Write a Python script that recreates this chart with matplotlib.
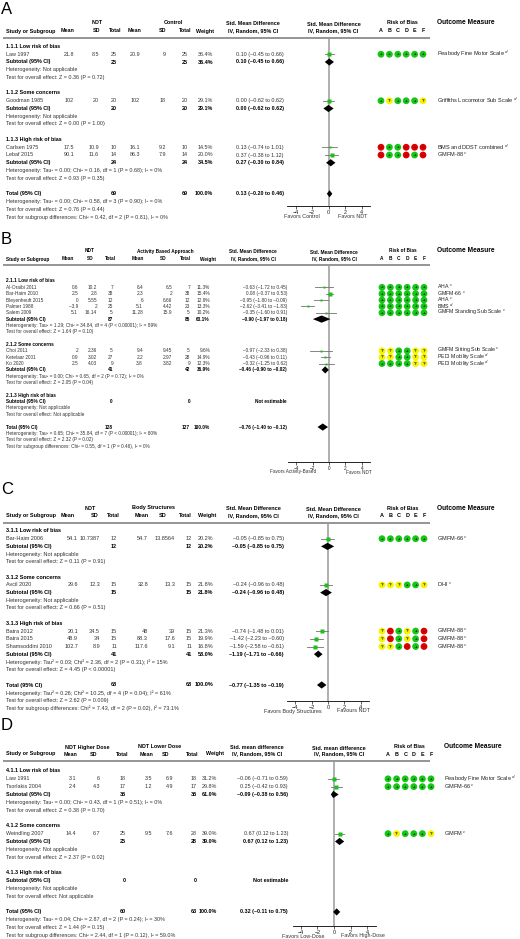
import matplotlib
matplotlib.use("Agg")
import matplotlib.pyplot as plt
import numpy as np

plt.rcParams['font.family'] = ['Liberation Sans', 'DejaVu Sans']
plt.rcParams['mathtext.fontset'] = 'custom'
plt.rcParams['mathtext.rm'] = 'Liberation Sans'

W, H = 520, 939

# ---------------- Panel A: NDT vs control ----------------
A_study = ["Law 1997", "Goodman 1985", "Carlsen 1975", "Lebaf 2015"]
A_sub = [0, 1, 2, 2]
A_m1 = [21.8, 102, 17.5, 90.1]
A_sd1 = [8.5, 20, 10.9, 11.6]
A_n1 = [25, 20, 10, 14]
A_m2 = [20.9, 102, 16.1, 86.3]
A_sd2 = [9, 18, 9.2, 7.9]
A_n2 = [25, 20, 10, 14]
A_w = [36.4, 29.1, 14.5, 20.0]
A_smd = [0.10, 0.00, 0.13, 0.37]
A_lo = [-0.45, -0.62, -0.74, -0.38]
A_hi = [0.66, 0.62, 1.01, 1.12]
A_rob = ["GGGGGG", "GYGGGY", "RGGRRR", "RGGRGR"]
A_outcome = ["Peabody Fine Motor Scale", "Griffiths Locomotor Sub Scale", "BMS and DDST combined", "GMFM-88"]
A_note = ["d", "d", "d", "c"]
A_groups = ["1.1.1 Low risk of bias", "1.1.2 Some concerns", "1.1.3 High risk of bias"]
A_gn1 = [25, 20, 24]
A_gn2 = [25, 20, 24]
A_gw = [36.4, 29.1, 34.5]
A_gsmd = [0.10, 0.00, 0.27]
A_glo = [-0.45, -0.62, -0.30]
A_ghi = [0.66, 0.62, 0.84]
A_ghet = ["Heterogeneity: Not applicable", "Heterogeneity: Not applicable",
          "Heterogeneity: Tau² = 0.00; Chi² = 0.16, df = 1 (P = 0.68); I² = 0%"]
A_gz = ["Test for overall effect: Z = 0.36 (P = 0.72)", "Test for overall effect: Z = 0.00 (P = 1.00)",
        "Test for overall effect: Z = 0.93 (P = 0.35)"]
A_tot = [69, 69, 0.13, -0.20, 0.46]
A_tot_txt = ["Heterogeneity: Tau² = 0.00; Chi² = 0.58, df = 3 (P = 0.90); I² = 0%",
             "Test for overall effect: Z = 0.76 (P = 0.44)",
             "Test for subgroup differences: Chi² = 0.42, df = 2 (P = 0.81), I² = 0%"]
A_arms = ["NDT", "Control"]
A_favors = ["Favors Control", "Favors NDT"]

# ---------------- Panel B: NDT vs activity based ----------------
B_study = ["Al-Oraibi 2011", "Bar-Haim 2010", "Bleyenheuft 2015", "Palmer 1988", "Salem 2009",
           "Choi 2011", "Ketelaar 2001", "Ko 2020"]
B_sub = [0, 0, 0, 0, 0, 1, 1, 1]
B_m1 = [0.6, 2.5, 0, -3.9, 5.1, 2, 0.9, 2.5]
B_sd1 = [10.2, 2.8, 5.55, 2, 16.14, 2.36, 3.02, 4.03]
B_n1 = [7, 38, 12, 25, 5, 5, 27, 9]
B_m2 = [6.4, 2.3, 6, 5.1, 11.28, 9.4, 2.2, 3.8]
B_sd2 = [6.5, 2, 6.66, 4.42, 15.9, 9.45, 2.97, 3.82]
B_n2 = [7, 38, 12, 23, 5, 5, 28, 9]
B_w = [11.3, 15.4, 12.9, 13.3, 10.2, 9.6, 14.9, 12.3]
B_smd = [-0.63, 0.08, -0.95, -2.62, -0.35, -0.97, -0.43, -0.32]
B_lo = [-1.72, -0.37, -1.80, -3.41, -1.60, -2.33, -0.96, -1.25]
B_hi = [0.45, 0.53, -0.09, -1.83, 0.91, 0.38, 0.11, 0.62]
B_rob = ["GGGGGG", "GGGGGG", "GGGGGG", "GGGGGG", "GGGGGG", "YYGGYY", "YYGGYY", "GGGGYY"]
B_outcome = ["AHA", "GMFM-66", "AHA", "BMS", "GMFM Standing Sub Scale",
             "GMFM Sitting Sub Scale", "PEDI Mobility Scale", "PEDI Mobility Scale"]
B_note = ["c", "c", "c", "d", "c", "c", "d", "d"]
B_groups = ["2.1.1 Low risk of bias", "2.1.2 Some concerns", "2.1.3 High risk of bias"]
B_gn1 = [87, 41, 0]
B_gn2 = [85, 42, 0]
B_gw = [63.1, 36.9, None]
B_gsmd = [-0.90, -0.46, None]
B_glo = [-1.97, -0.90, None]
B_ghi = [0.18, -0.02, None]
B_ghet = ["Heterogeneity: Tau² = 1.29; Chi² = 34.84, df = 4 (P < 0.00001); I² = 89%",
          "Heterogeneity: Tau² = 0.00; Chi² = 0.65, df = 2 (P = 0.72); I² = 0%",
          "Heterogeneity: Not applicable"]
B_gz = ["Test for overall effect: Z = 1.64 (P = 0.10)", "Test for overall effect: Z = 2.05 (P = 0.04)",
        "Test for overall effect: Not applicable"]
B_tot = [128, 127, -0.76, -1.40, -0.12]
B_tot_txt = ["Heterogeneity: Tau² = 0.65; Chi² = 35.84, df = 7 (P < 0.00001); I² = 80%",
             "Test for overall effect: Z = 2.32 (P = 0.02)",
             "Test for subgroup differences: Chi² = 0.55, df = 1 (P = 0.46), I² = 0%"]
B_arms = ["NDT", "Activity Based Approach"]
B_favors = ["Favors Activity-Based", "Favors NDT"]

# ---------------- Panel C: NDT vs body structures ----------------
C_study = ["Bar-Haim 2006", "Avcil 2020", "Batra 2012", "Batra 2015", "Shamsoddini 2010"]
C_sub = [0, 1, 2, 2, 2]
C_m1 = [54.1, 29.6, 20.1, 48.9, 102.7]
C_sd1 = [10.7387, 12.3, 34.5, 34, 8.9]
C_n1 = [12, 15, 15, 15, 11]
C_m2 = [54.7, 32.8, 48, 88.3, 117.6]
C_sd2 = [13.8564, 13.3, 39, 17.6, 9.1]
C_n2 = [12, 15, 15, 15, 11]
C_w = [20.2, 21.8, 21.3, 19.9, 16.8]
C_smd = [-0.05, -0.24, -0.74, -1.42, -1.59]
C_lo = [-0.85, -0.96, -1.48, -2.23, -2.58]
C_hi = [0.75, 0.48, 0.01, -0.60, -0.61]
C_rob = ["GGGGGG", "YYYGGY", "YRGYGR", "YRGYGR", "YYGRGR"]
C_outcome = ["GMFM-66", "DHI", "GMFM-88", "GMFM-88", "GMFM-88"]
C_note = ["c", "c", "c", "c", "c"]
C_groups = ["3.1.1 Low risk of bias", "3.1.2 Some concerns", "3.1.3 High risk of bias"]
C_gn1 = [12, 15, 41]
C_gn2 = [12, 15, 41]
C_gw = [20.2, 21.8, 58.0]
C_gsmd = [-0.05, -0.24, -1.19]
C_glo = [-0.85, -0.96, -1.71]
C_ghi = [0.75, 0.48, -0.66]
C_ghet = ["Heterogeneity: Not applicable", "Heterogeneity: Not applicable",
          "Heterogeneity: Tau² = 0.03; Chi² = 2.36, df = 2 (P = 0.31); I² = 15%"]
C_gz = ["Test for overall effect: Z = 0.11 (P = 0.91)", "Test for overall effect: Z = 0.66 (P = 0.51)",
        "Test for overall effect: Z = 4.45 (P < 0.00001)"]
C_tot = [68, 68, -0.77, -1.35, -0.19]
C_tot_txt = ["Heterogeneity: Tau² = 0.26; Chi² = 10.25, df = 4 (P = 0.04); I² = 61%",
             "Test for overall effect: Z = 2.62 (P = 0.009)",
             "Test for subgroup differences: Chi² = 7.43, df = 2 (P = 0.02), I² = 73.1%"]
C_arms = ["NDT", "Body Structures"]
C_favors = ["Favors Body Structures", "Favours NDT"]

# ---------------- Panel D: higher vs lower dose ----------------
D_study = ["Law 1991", "Tsorlakis 2004", "Weindling 2007"]
D_sub = [0, 0, 1]
D_m1 = [3.1, 2.4, 14.4]
D_sd1 = [6, 4.3, 6.7]
D_n1 = [18, 17, 25]
D_m2 = [3.5, 1.2, 9.5]
D_sd2 = [6.9, 4.9, 7.6]
D_n2 = [18, 17, 28]
D_w = [31.2, 29.8, 39.0]
D_smd = [-0.06, 0.25, 0.67]
D_lo = [-0.71, -0.42, 0.12]
D_hi = [0.59, 0.93, 1.23]
D_rob = ["GGGGGG", "GGGGGG", "GYGGGY"]
D_outcome = ["Peabody Fine Motor Scale", "GMFM-66", "GMFM"]
D_note = ["d", "c", "c"]
D_groups = ["4.1.1 Low risk of bias", "4.1.2 Some concerns", "4.1.3 High risk of bias"]
D_gn1 = [35, 25, 0]
D_gn2 = [35, 28, 0]
D_gw = [61.0, 39.0, None]
D_gsmd = [-0.09, 0.67, None]
D_glo = [-0.38, 0.12, None]
D_ghi = [0.56, 1.23, None]
D_ghet = ["Heterogeneity: Tau² = 0.00; Chi² = 0.43, df = 1 (P = 0.51); I² = 0%",
          "Heterogeneity: Not applicable", "Heterogeneity: Not applicable"]
D_gz = ["Test for overall effect: Z = 0.38 (P = 0.70)", "Test for overall effect: Z = 2.37 (P = 0.02)",
        "Test for overall effect: Not applicable"]
D_tot = [60, 63, 0.32, -0.11, 0.75]
D_tot_txt = ["Heterogeneity: Tau² = 0.04; Chi² = 2.87, df = 2 (P = 0.24); I² = 30%",
             "Test for overall effect: Z = 1.44 (P = 0.15)",
             "Test for subgroup differences: Chi² = 2.44, df = 1 (P = 0.12), I² = 59.0%"]
D_arms = ["NDT Higher Dose", "NDT Lower Dose"]
D_favors = ["Favors Low-Dose", "Favors High-Dose"]

ROB_COLORS = {"G": "#16c616", "Y": "#f4f400", "R": "#dd0000"}
ROB_MARK = {"G": "+", "Y": "?", "R": "–"}


def num(v):
    return f"{v:g}".replace("-", "–")


def ci(e, lo, hi):
    return f"{e:.2f} ({lo:.2f} to {hi:.2f})".replace("-", "–")


def pack(pfx):
    g = globals()
    return {k: g[pfx + "_" + k] for k in ["study", "sub", "m1", "sd1", "n1", "m2", "sd2", "n2", "w", "smd",
                                           "lo", "hi", "rob", "outcome", "note", "groups", "gn1", "gn2", "gw",
                                           "gsmd", "glo", "ghi", "ghet", "gz", "tot", "tot_txt", "arms", "favors"]}


# layout of each panel (pixel positions in the 520x939 image)
layouts = {
    "A": dict(label_y=10, y0=46.5, step=7.75, fs=3.9, head1=23, head2=31, line_y=38, axis_y=206, fav_y=217,
              cx=328.5, ppu=8.25, cols=[74, 99, 117, 140, 166, 188, 213], ci_r=284,
              heads=[68, 97, 115, 135, 163, 185, 205], ci_head=253, g1x=97, g2x=173,
              rob_x0=381, rob_dx=8.4, out_x=437, out_fs=4.1, fav_x=[302, 353], smd_title="Std. Mean Difference"),
    "B": dict(label_y=239, y0=281, step=6.35, fs=3.4, head1=251, head2=259, line_y=265, axis_y=462, fav_y=472,
              cx=329, ppu=8.2, cols=[78, 97, 113, 143, 172, 190, 210], ci_r=287,
              heads=[68, 90, 110, 138, 163, 185, 208], ci_head=253, g1x=90, g2x=165,
              rob_x0=382, rob_dx=8.4, out_x=437, out_fs=3.8, fav_x=[293, 359], smd_title="Std. Mean Difference"),
    "C": dict(label_y=490, y0=531, step=7.7, fs=4.0, head1=508, head2=515.5, line_y=523, axis_y=701, fav_y=711,
              cx=328, ppu=8.2, cols=[78, 100, 117, 148, 175, 192, 213], ci_r=284,
              heads=[68, 95, 113, 142, 163, 185, 207], ci_head=253, g1x=90, g2x=153,
              rob_x0=382, rob_dx=8.4, out_x=437, out_fs=4.1, fav_x=[293, 353], smd_title="Std. Mean Difference"),
    "D": dict(label_y=726, y0=771, step=7.83, fs=3.9, head1=747, head2=754, line_y=761, axis_y=926, fav_y=936,
              cx=334, ppu=8.3, cols=[76, 100, 126, 152, 173, 197, 217], ci_r=288,
              heads=[71, 94, 122, 147, 166, 192, 215], ci_head=257, g1x=87, g2x=160,
              rob_x0=388, rob_dx=8.6, out_x=444, out_fs=4.1, fav_x=[303, 363], smd_title="Std. mean difference"),
}

fig = plt.figure(figsize=(W / 100, H / 100), dpi=100)
ax = fig.add_axes([0, 0, 1, 1])
ax.set_xlim(0, W)
ax.set_ylim(H, 0)
ax.axis("off")

TXT = "#333333"


def t(x, y, s, fs, bold=False, ha="left", color=None, **kw):
    ax.text(x, y, s, fontsize=fs, ha=ha, va="center", fontweight="bold" if bold else "normal",
            color=color or ("black" if bold else TXT), **kw)


def draw_panel(letter, P, L):
    fs = L["fs"]
    cols = L["cols"]
    t(1, L["label_y"], letter, 12, color="black")

    # forest plot axes, x = SMD, y = pixel rows
    fax = fig.add_axes([(L["cx"] - 5 * L["ppu"]) / W, 1 - L["axis_y"] / H,
                        10 * L["ppu"] / W, (L["axis_y"] - L["line_y"]) / H])
    fax.set_xlim(-5, 5)
    fax.set_ylim(L["axis_y"], L["line_y"])
    fax.patch.set_alpha(0)
    for s in ["top", "right", "left"]:
        fax.spines[s].set_visible(False)
    fax.spines["bottom"].set_linewidth(0.6)
    fax.set_yticks([])
    fax.set_xticks([-4, -2, 0, 2, 4])
    fax.tick_params(axis="x", labelsize=fs, length=2, width=0.5, pad=0.8, colors="#222222")
    fax.axvline(0, color="#9a9a9a", lw=1.1, zorder=0)

    # headers
    t(L["g1x"], L["head1"], P["arms"][0], fs, True, "center")
    t(L["g2x"], L["head1"], P["arms"][1], fs, True, "center")
    t(6, L["head2"], "Study or Subgroup", fs, True)
    for x, lab in zip(L["heads"], ["Mean", "SD", "Total", "Mean", "SD", "Total", "Weight"]):
        t(x, L["head2"], lab, fs, True, "center")
    t(L["ci_head"], L["head1"] + 0.5, L["smd_title"], fs, True, "center")
    t(L["ci_head"], L["head2"], "IV, Random, 95% CI", fs, True, "center")
    t(L["cx"] + 5, L["head1"] + 1.5, L["smd_title"], fs, True, "center")
    t(L["cx"] + 5, L["head2"], "IV, Random, 95% CI", fs, True, "center")
    rob_c = L["rob_x0"] + 2.5 * L["rob_dx"]
    t(rob_c, L["head1"], "Risk of Bias", fs, True, "center")
    for i, c in enumerate("ABCDEF"):
        t(L["rob_x0"] + i * L["rob_dx"], L["head2"], c, fs, True, "center")
    t(L["out_x"], L["head1"], "Outcome Measure", 4.8, True)
    ax.plot([3, 430], [L["line_y"], L["line_y"]], color="#8c8c8c", lw=1.3, solid_capstyle="butt")

    r = 0
    y = lambda k: L["y0"] + k * L["step"]
    for g, gname in enumerate(P["groups"]):
        t(6, y(r), gname, fs, True)
        r += 1
        for i in [k for k, s in enumerate(P["sub"]) if s == g]:
            yy = y(r)
            t(6, yy, P["study"][i], fs)
            vals = [num(P["m1"][i]), num(P["sd1"][i]), str(P["n1"][i]),
                    num(P["m2"][i]), num(P["sd2"][i]), str(P["n2"][i]), f"{P['w'][i]:.1f}%"]
            for x, v in zip(cols, vals):
                t(x, yy, v, fs, ha="right")
            t(L["ci_r"], yy, ci(P["smd"][i], P["lo"][i], P["hi"][i]), fs, ha="right")
            fax.plot([P["lo"][i], P["hi"][i]], [yy, yy], color="#707070", lw=0.6)
            fax.plot(P["smd"][i], yy, "s", ms=1.4 + P["w"][i] * 0.05, color="#1cbf1c", mec="none")
            for j, c in enumerate(P["rob"][i]):
                xx = L["rob_x0"] + j * L["rob_dx"]
                ax.scatter(xx, yy, s=24, color=ROB_COLORS[c], edgecolors="none", zorder=3)
                t(xx, yy, ROB_MARK[c], 3.2, True, "center", color="black", zorder=4)
            t(L["out_x"], yy, P["outcome"][i] + r" $^{" + P["note"][i] + "}$", L["out_fs"], color="#222222")
            r += 1
        yy = y(r)
        t(6, yy, "Subtotal (95% CI)", fs, True)
        t(cols[2], yy, str(P["gn1"][g]), fs, True, "right")
        t(cols[5], yy, str(P["gn2"][g]), fs, True, "right")
        if P["gsmd"][g] is None:
            t(L["ci_r"], yy, "Not estimable", fs, True, "right")
        else:
            t(cols[6], yy, f"{P['gw'][g]:.1f}%", fs, True, "right")
            t(L["ci_r"], yy, ci(P["gsmd"][g], P["glo"][g], P["ghi"][g]), fs, True, "right")
            fax.fill([P["glo"][g], P["gsmd"][g], P["ghi"][g], P["gsmd"][g]],
                     [yy, yy - 3.6, yy, yy + 3.6], color="black", lw=0)
        t(6, y(r + 1), P["ghet"][g], fs)
        t(6, y(r + 2), P["gz"][g], fs)
        r += 4

    n1, n2, e, lo, hi = P["tot"]
    yy = y(r)
    t(6, yy, "Total (95% CI)", fs, True)
    t(cols[2], yy, str(n1), fs, True, "right")
    t(cols[5], yy, str(n2), fs, True, "right")
    t(cols[6], yy, "100.0%", fs, True, "right")
    t(L["ci_r"], yy, ci(e, lo, hi), fs, True, "right")
    fax.fill([lo, e, hi, e], [yy, yy - 3.6, yy, yy + 3.6], color="black", lw=0)
    for k, s in enumerate(P["tot_txt"]):
        t(6, y(r + 1 + k), s, fs)

    t(L["fav_x"][0], L["fav_y"], P["favors"][0], fs, ha="center")
    t(L["fav_x"][1], L["fav_y"], P["favors"][1], fs, ha="center")


for letter in "ABCD":
    draw_panel(letter, pack(letter), layouts[letter])

fig.savefig("out.png", dpi=100)
